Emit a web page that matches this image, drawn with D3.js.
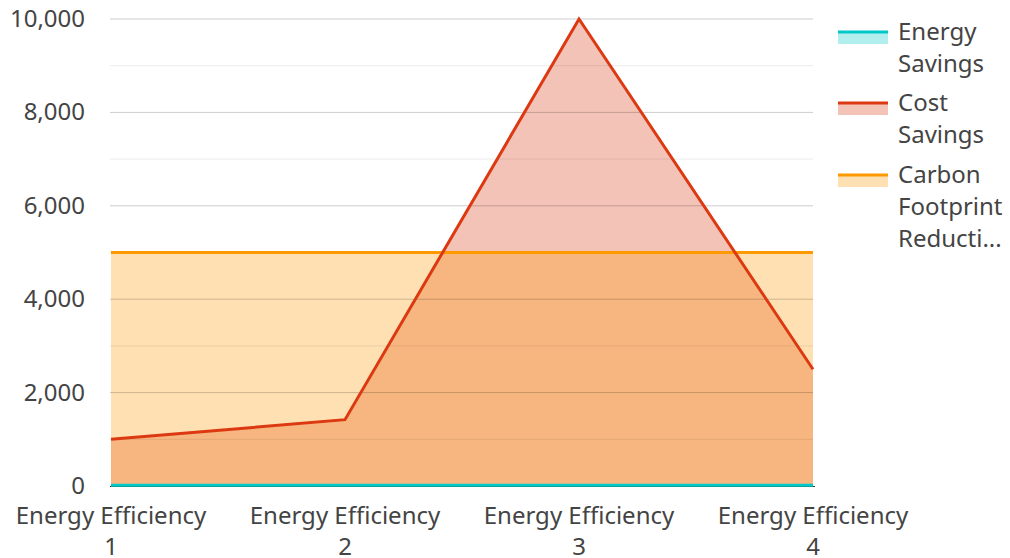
<!DOCTYPE html>
<html>
<head>
<meta charset="utf-8">
<script src="https://d3js.org/d3.v7.min.js"></script>
<style>
  body { margin: 0; background: #fff; }
  text { font-family: "Noto Sans", "Open Sans", sans-serif; fill: #444; }
</style>
</head>
<body>
<script>
    // data
    var categories = ["Energy Efficiency 1", "Energy Efficiency 2", "Energy Efficiency 3", "Energy Efficiency 4"];
    var energySavings = [15, 15, 15, 15];
    var costSavings = [1000, 1420, 10000, 2500];
    var carbonReduction = [5000, 5000, 5000, 5000];
    var seriesNames = ["Energy Savings", "Cost Savings", "Carbon Footprint Reducti..."];
    var legendLines = [["Energy", "Savings"], ["Cost", "Savings"], ["Carbon", "Footprint", "Reducti..."]];
    var yTicks = [0, 2000, 4000, 6000, 8000, 10000];
    var yMinor = [1000, 3000, 5000, 7000, 9000];

    var colors = ["#00c8c8", "#dc3912", "#ff9900"];

    var W = 1010, H = 558;
    var plotL = 111, plotR = 813, plotT = 19, plotB = 486;
    var fontSize = "24px";

    var svg = d3.select("body").append("svg")
        .attr("width", W)
        .attr("height", H);

    var x = d3.scalePoint().domain(categories).range([plotL, plotR]);
    var y = d3.scaleLinear().domain([0, 10000]).range([plotB, plotT]);

    var allSeries = [energySavings, costSavings, carbonReduction];

    var area = d3.area()
        .x((d, i) => x(categories[i]))
        .y0(y(0))
        .y1(d => y(d));
    var line = d3.line()
        .x((d, i) => x(categories[i]))
        .y(d => y(d));

    // areas
    var drawOrder = [0, 1, 2];
    drawOrder.forEach(function(k) {
        svg.append("path")
            .attr("d", area(allSeries[k]))
            .attr("fill", colors[k])
            .attr("fill-opacity", 0.3);
    });

    // grid over the fills
    svg.selectAll("line.minor")
        .data(yMinor)
        .enter().append("line")
        .attr("class", "minor")
        .attr("x1", plotL - 1).attr("x2", plotR)
        .attr("y1", d => y(d)).attr("y2", d => y(d))
        .attr("stroke", "#000")
        .attr("stroke-opacity", 0.08)
        .attr("stroke-width", 1);

    svg.selectAll("line.major")
        .data(yTicks.filter(d => d > 0))
        .enter().append("line")
        .attr("class", "major")
        .attr("x1", plotL - 1).attr("x2", plotR)
        .attr("y1", d => y(d)).attr("y2", d => y(d))
        .attr("stroke", "#000")
        .attr("stroke-opacity", 0.2)
        .attr("stroke-width", 1);

    // y labels
    svg.selectAll("text.ylab")
        .data(yTicks)
        .enter().append("text")
        .attr("class", "ylab")
        .attr("x", 85)
        .attr("y", d => y(d) + 8)
        .attr("text-anchor", "end")
        .style("font-size", fontSize)
        .text(d => d3.format(",")(d));

    // baseline
    svg.append("line")
        .attr("x1", plotL - 1).attr("x2", plotR + 2)
        .attr("y1", plotB + 0.5).attr("y2", plotB + 0.5)
        .attr("stroke", "#333")
        .attr("stroke-width", 1);

    [2, 1, 0].forEach(function(k) {
        svg.append("path")
            .attr("d", line(allSeries[k]))
            .attr("fill", "none")
            .attr("stroke", colors[k])
            .attr("stroke-width", 3);
    });

    // x labels (wrapped in two lines)
    var xl = svg.selectAll("text.xlab")
        .data(categories)
        .enter().append("text")
        .attr("class", "xlab")
        .attr("text-anchor", "middle")
        .style("font-size", fontSize);
    xl.append("tspan")
        .attr("x", d => x(d))
        .attr("y", 524)
        .text(d => d.slice(0, d.lastIndexOf(" ")));
    xl.append("tspan")
        .attr("x", d => x(d))
        .attr("y", 555)
        .text(d => d.slice(d.lastIndexOf(" ") + 1));

    // legend
    var legendY = [32, 103, 175];
    legendLines.forEach(function(lines, k) {
        var g = svg.append("g").attr("transform", "translate(838," + legendY[k] + ")");
        g.append("rect")
            .attr("x", 0).attr("y", 0)
            .attr("width", 50).attr("height", 12)
            .attr("fill", colors[k])
            .attr("fill-opacity", 0.3);
        g.append("rect")
            .attr("x", 0).attr("y", -1.5)
            .attr("width", 50).attr("height", 3)
            .attr("fill", colors[k]);
        var t = g.append("text")
            .attr("x", 60)
            .style("font-size", fontSize);
        lines.forEach(function(s, j) {
            t.append("tspan")
                .attr("x", 60)
                .attr("y", 8 + j * 32)
                .text(s);
        });
    });
</script>
</body>
</html>
